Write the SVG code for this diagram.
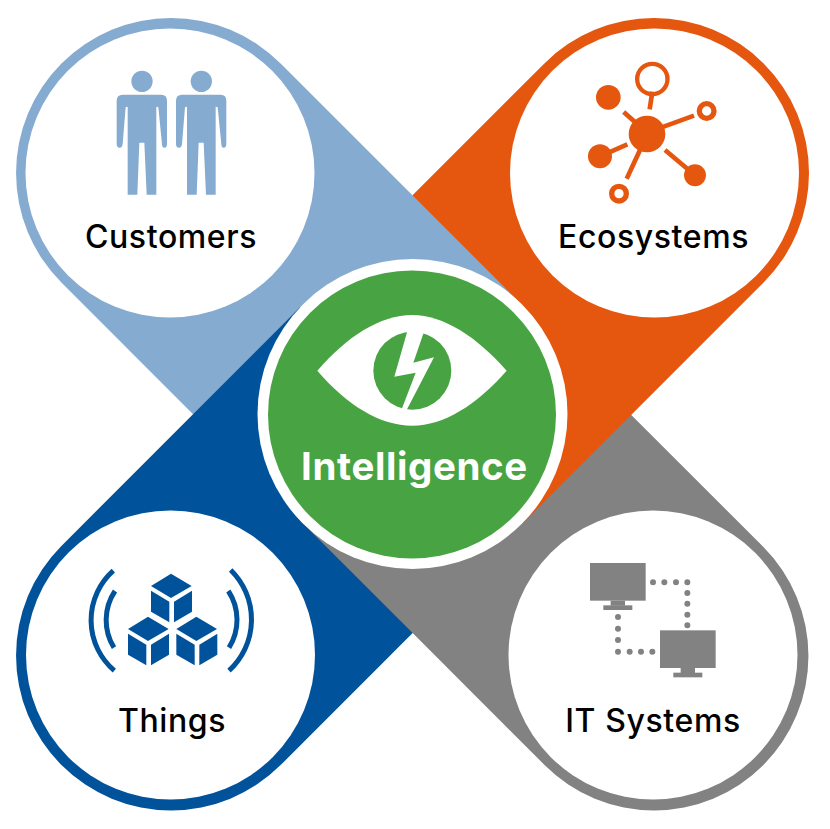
<svg xmlns="http://www.w3.org/2000/svg" width="830" height="829" viewBox="0 0 830 829">
<style>
text{font-family:Inter,"Liberation Sans",Arial,sans-serif}
.lbl{font-size:32px;font-weight:500;letter-spacing:.6px;fill:#000;text-anchor:middle}
.lb{fill:#86abd0}.or{fill:#e5570f}.gy{fill:#828282}.db{fill:#00539b}
.wh{fill:#fff}
</style>
<defs>
<path id="person" d="M128,134H244Q261,134 261,152V282Q261,293 253,293Q246,293 246,282L235,172Q233,170 229,170V434H200L193,278H178L172,434H143V170Q139,170 137,172L128,282Q127,293 119,293Q110,293 110,282V152Q110,134 128,134Z"/>
<g id="cube"><path d="M273,41L335,78L273,114L213,78Z"/><path d="M213,92L268,125V187L213,155Z"/><path d="M282,125L336,92V155L282,187Z"/></g>
<g id="monitor"><rect x="0" y="0" width="167" height="113"/><rect x="62" y="113" width="43" height="15"/><rect x="40" y="127" width="87" height="14"/></g>
</defs>
<g id="connectors">
<path class="gy" d="M763.200,546.800A100,100 0 0 1 544.800,765.200L412.650,633L400,630L300,530L300,515L412.500,414L631.300,414.900Z"/>
<path class="or" d="M544.400,63.400A100,100 0 0 1 763.600,282.600L522,524.200L412.500,414L412.500,195.300Z"/>
<path class="lb" d="M280.600,63.400A100,100 0 0 0 61.400,282.600L193.050,414.250L412.500,414L522,304.800Z"/>
<path class="db" d="M61.400,545.900A100,100 0 0 0 280.600,765.100L412.650,633L300,520.400L300,307.300Z"/>
</g>
<g id="customers">
<circle class="wh" cx="170" cy="173" r="144.500"/>
<g class="lb" transform="translate(80,50) scale(.33333)">
<circle cx="186" cy="94" r="32"/><use href="#person"/>
<circle cx="364" cy="94" r="32"/><use href="#person" x="178"/>
</g>
<text class="lbl" x="171" y="248">Customers</text>
</g>
<g id="ecosystems">
<circle class="wh" cx="654.500" cy="173" r="144.500"/>
<g transform="translate(560,50) scale(.33333)">
<g fill="#e5570f"><circle cx="261" cy="252" r="55"/><circle cx="145" cy="142" r="37"/><circle cx="120" cy="319" r="36"/><circle cx="405" cy="376" r="33"/></g>
<g fill="none" stroke="#e5570f"><path stroke-width="14" d="M277,125L269,178M305,232L402,197M191,186L225,216M120,319L202,283M315,300L405,376M240,300L200,386"/>
<circle cx="277" cy="87" r="45.500" stroke-width="13"/><circle cx="440" cy="183" r="22" stroke-width="16"/><circle cx="177" cy="431" r="22" stroke-width="16"/></g>
</g>
<text class="lbl" x="653.500" y="248">Ecosystems</text>
</g>
<g id="things">
<circle class="wh" cx="170.500" cy="655" r="144.500"/>
<g class="db" transform="translate(80,560) scale(.33333)">
<use href="#cube"/><use href="#cube" x="-69" y="129"/><use href="#cube" x="76" y="129"/>
<g fill="none" stroke="#00539b" stroke-width="15"><path d="M100,32A199,199 0 0 0 103,332M105,93A157,157 0 0 0 102,263M452,30A208,208 0 0 1 447,332M445,93A157,157 0 0 1 447,263"/></g>
</g>
<text class="lbl" x="172" y="731.500">Things</text>
</g>
<g id="it-systems">
<circle class="wh" cx="653" cy="655" r="144.500"/>
<g class="gy" transform="translate(570,550) scale(.33333)">
<use href="#monitor" x="60" y="39"/><use href="#monitor" x="270" y="241"/>
<path fill="none" stroke="#828282" stroke-width="18" stroke-linecap="round" d="M249,97h0M283,97h0M318,97h0M352,97h0M352,129h0M352,161h0M352,194h0M352,226h0M144,201h0M144,236h0M144,270h0M144,305h0M179,305h0M213,305h0M247,305h0"/>
</g>
<text class="lbl" x="653" y="731.500">IT Systems</text>
</g>
<g id="intelligence">
<circle class="wh" cx="412.500" cy="414" r="155"/>
<circle cx="412" cy="414.500" r="144" fill="#48a442"/>
<g transform="translate(250,250) scale(.33333)">
<path fill="#fff" d="M202,362C290,260 390,195 487,195C580,195 680,260 770,362C680,465 580,527 487,527C390,527 290,465 202,362Z"/>
<circle cx="487" cy="362" r="117" fill="#48a442"/>
<path fill="#fff" d="M473,240L433,380L497,368L455,478L470,480L552,322L490,338L522,245Z"/>
</g>
<text x="414.500" y="479.500" text-anchor="middle" font-size="38.500" font-weight="700" letter-spacing=".6" fill="#fff">Intelligence</text>
</g>
</svg>
